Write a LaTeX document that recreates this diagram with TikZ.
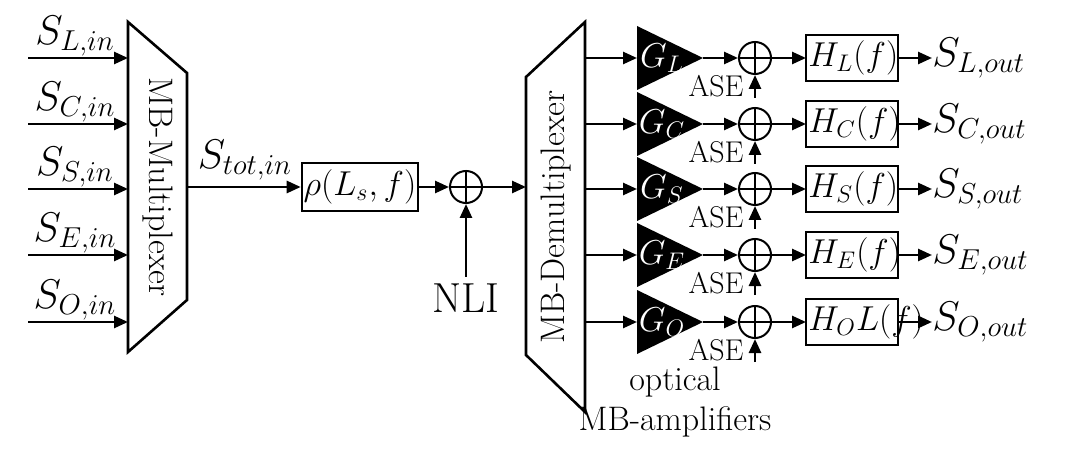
\documentclass[tikz,border=0pt]{standalone}
\usetikzlibrary{arrows.meta}
\begin{document}
\begin{tikzpicture}[x=0.5pt,y=-0.5pt,
  ln/.style={line width=1.3pt},
  ar/.style={ln,-{Triangle[length=7pt,width=6pt]}},
  big/.style={font=\fontsize{21}{24}\selectfont},
  mid/.style={font=\fontsize{17}{20}\selectfont},
  sm/.style={font=\fontsize{15}{18}\selectfont},
  sumc/.style={circle,draw,line width=1pt,minimum size=16pt,inner sep=0pt},
  blk/.style={draw,line width=1pt,inner sep=1pt}]
\useasboundingbox (0,0) rectangle (1068,475);
% multiplexer
\draw[ln] (128,22) -- (187,73) -- (187,300) -- (128,352) -- cycle;
\node[mid,rotate=-90] (mux) at (158,187) {MB-Multiplexer};
\foreach \y/\s [count=\i] in {58/L,124/C,189/S,255/E,322/O}{
  \coordinate (in\i) at (28,\y);
  \coordinate (mi\i) at (128,\y);
  \draw[ar] (in\i) -- (mi\i);
  \node[big] (lin\i) at (75,\y-22) {$S_{\s,in}$};
}
\coordinate (mo) at (187,187);
\node[blk,mid,minimum width=58pt,minimum height=24pt] (rho) at (360,187) {$\rho(L_s,f)$};
\draw[ar] (mo) -- (rho.west);
\node[big] (stot) at (245,160) {$S_{tot,in}$};
\node[sumc] (s0) at (466,187) {};
\draw[line width=0.8pt] (s0.north)--(s0.south) (s0.west)--(s0.east);
\draw[ar] (rho.east) -- (s0.west);
\node[big] (nli) at (466,298) {NLI};
\draw[ar] (nli.north) -- (s0.south);
% demux
\draw[ln] (526,77) -- (585,22) -- (585,412) -- (526,355) -- cycle;
\node[mid,rotate=90] (dmx) at (556,217) {MB-Demultiplexer};
\coordinate (di) at (526,187);
\draw[ar] (s0.east) -- (di);
\foreach \y/\s/\h [count=\i] in {58/L/{H_L(f)},124/C/{H_C(f)},189/S/{H_S(f)},255/E/{H_E(f)},322/O/{H_OL(f)}}{
  \coordinate (do\i) at (585,\y);
  \coordinate (gi\i) at (637,\y);
  \fill (637,\y-32) -- (703,\y) -- (637,\y+32) -- cycle;
  \coordinate (go\i) at (703,\y);
  \node[mid,text=white] (g\i) at (662,\y) {$G_{\s}$};
  \draw[ar] (do\i) -- (gi\i);
  \node[sumc] (sm\i) at (755,\y) {};
  \draw[line width=0.8pt] (sm\i.north)--(sm\i.south) (sm\i.west)--(sm\i.east);
  \draw[ar] (go\i) -- (sm\i.west);
  \coordinate (ase\i) at (755,\y+40);
  \draw[ar] (ase\i) -- (sm\i.south);
  \node[sm] (at\i) at (716,\y+28) {ASE};
  \draw[line width=1pt] (806,\y-23) rectangle (898,\y+23);
  \node[mid,anchor=west,inner sep=0pt] (h\i) at (808,\y) {$\h$};
  \coordinate (hi\i) at (806,\y);
  \coordinate (ho\i) at (898,\y);
  \draw[ar] (sm\i.east) -- (hi\i);
  \coordinate (oo\i) at (932,\y);
  \draw[ar] (ho\i) -- (oo\i);
  \node[big,anchor=west,inner sep=0pt] (out\i) at (932,\y) {$S_{\s,out}$};
}
\node[mid,align=center] (amp) at (675,402) {optical\\MB-amplifiers};
\end{tikzpicture}
\end{document}
